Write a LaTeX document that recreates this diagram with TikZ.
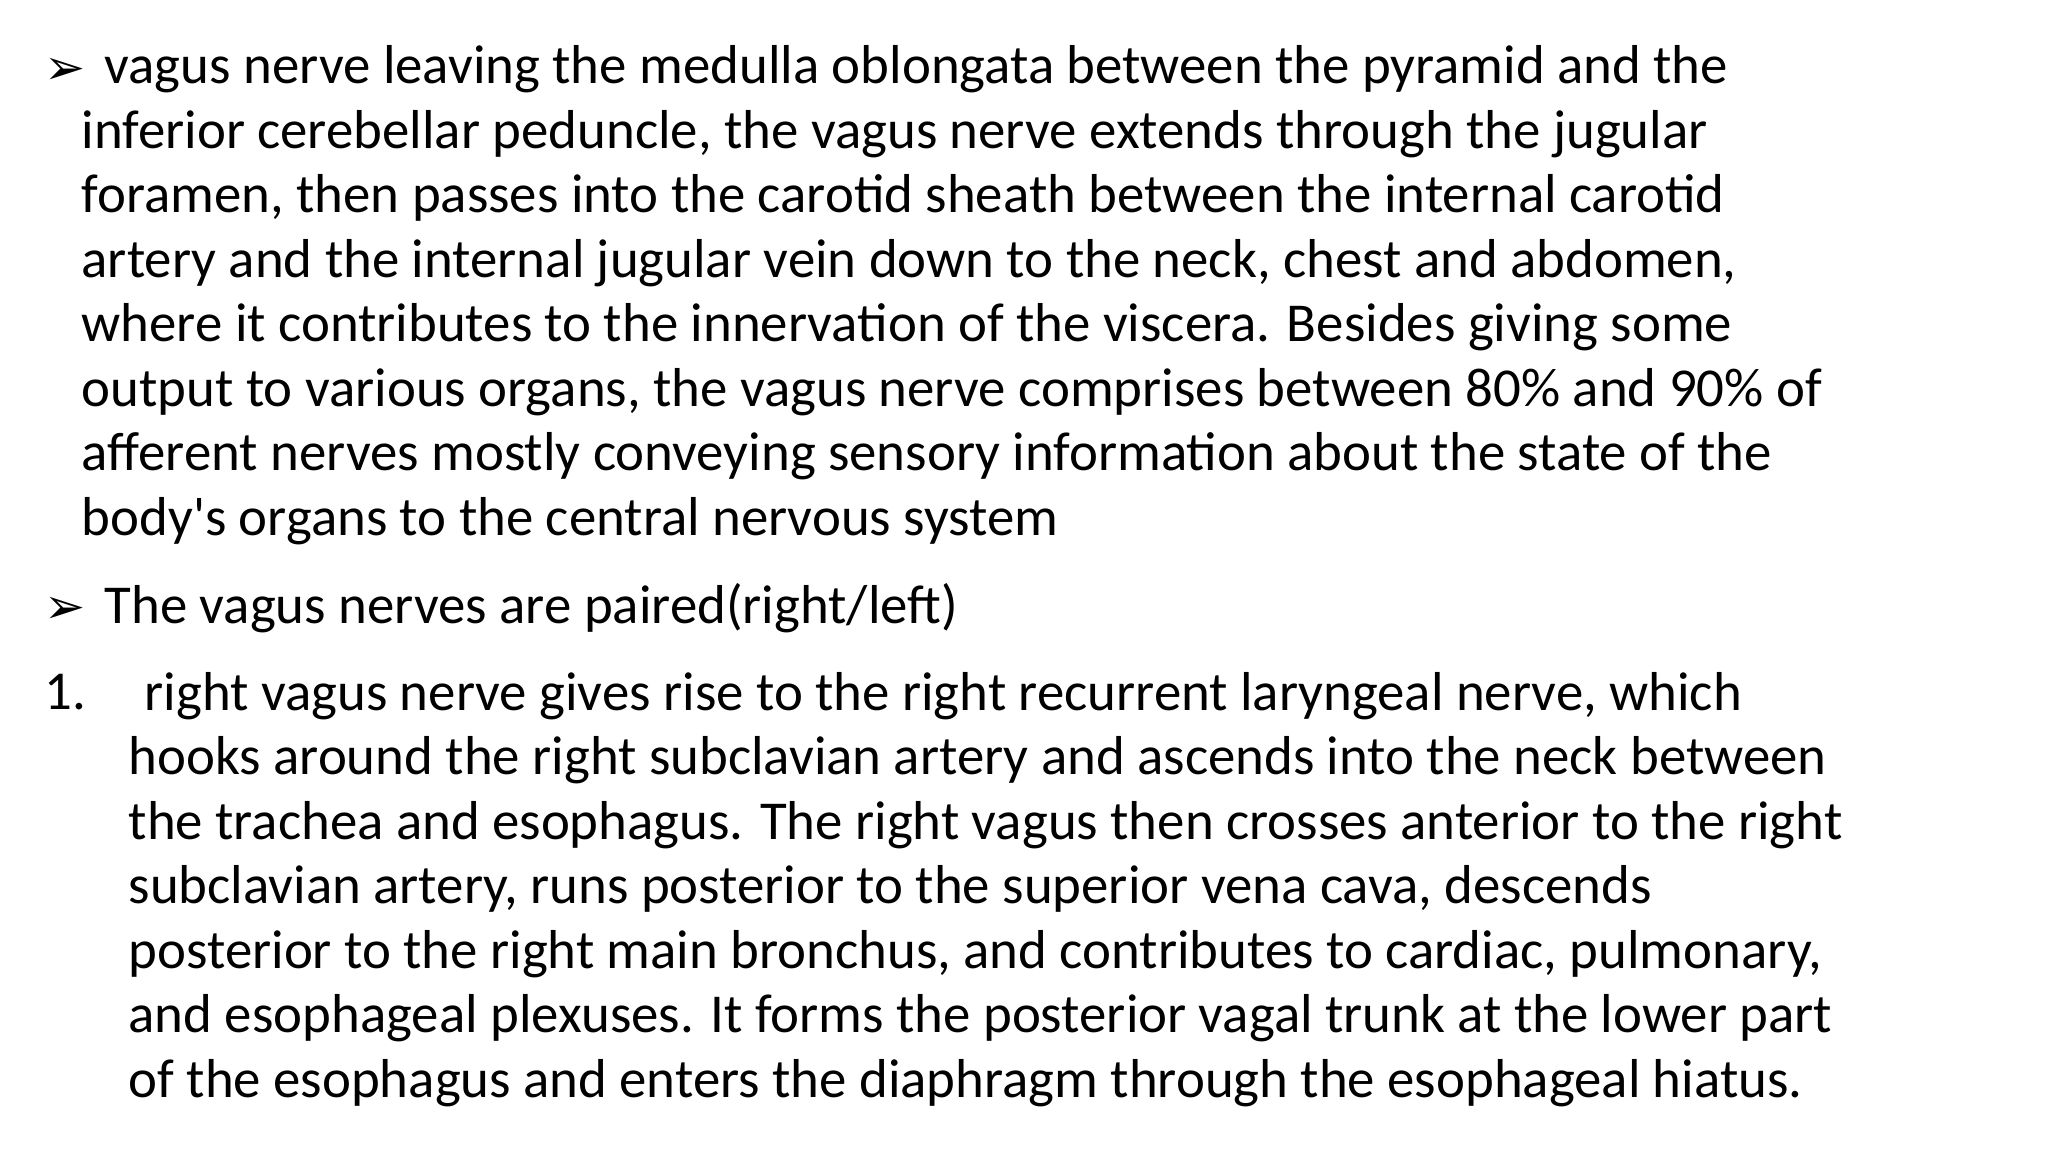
\documentclass[tikz,border=0pt]{standalone}
\usepackage{fontspec}
\setmainfont{Carlito}[Ligatures=TeXOff]
\newfontfamily\symfont{DejaVu Sans}
\begin{document}
\begin{tikzpicture}[x=1cm,y=1cm]
    \tikzstyle{para}=[anchor=base west,align=left,inner sep=0pt,
        font=\fontsize{15.6pt}{18.35pt}\selectfont]
    \tikzstyle{bulletmark}=[anchor=base west,inner sep=0pt,font=\fontsize{15.6pt}{18.35pt}\selectfont]
    \useasboundingbox (0,0) rectangle (20.48,-11.52);

    % first bullet
    \node[bulletmark] (B-1) at (0.44,-0.85) {\symfont\fontsize{14pt}{16pt}\selectfont ➢};
    \node[para] (P-1) at (0.81,-5.35) {\hspace*{0.23cm}vagus nerve leaving the medulla oblongata between the pyramid and the\\
inferior cerebellar peduncle, the vagus nerve extends through the jugular\\
foramen, then passes into the carotid sheath between the internal carotid\\
artery and the internal jugular vein down to the neck, chest and abdomen,\\
where it contributes to the innervation of the viscera. Besides giving some\\
output to various organs, the vagus nerve comprises between 80\% and 90\% of\\
afferent nerves mostly conveying sensory information about the state of the\\
body's organs to the central nervous system};

    % second bullet
    \node[bulletmark] (B-2) at (0.44,-6.24) {\symfont\fontsize{14pt}{16pt}\selectfont ➢};
    \node[para] (P-2) at (1.04,-6.24) {The vagus nerves are paired(right/left)};

    % numbered item
    \node[bulletmark] (N-1) at (0.44,-7.09) {1.};
    \node[para] (P-3) at (1.28,-10.97) {\hspace*{0.16cm}right vagus nerve gives rise to the right recurrent laryngeal nerve, which\\
hooks around the right subclavian artery and ascends into the neck between\\
the trachea and esophagus. The right vagus then crosses anterior to the right\\
subclavian artery, runs posterior to the superior vena cava, descends\\
posterior to the right main bronchus, and contributes to cardiac, pulmonary,\\
and esophageal plexuses. It forms the posterior vagal trunk at the lower part\\
of the esophagus and enters the diaphragm through the esophageal hiatus.};
\end{tikzpicture}
\end{document}
